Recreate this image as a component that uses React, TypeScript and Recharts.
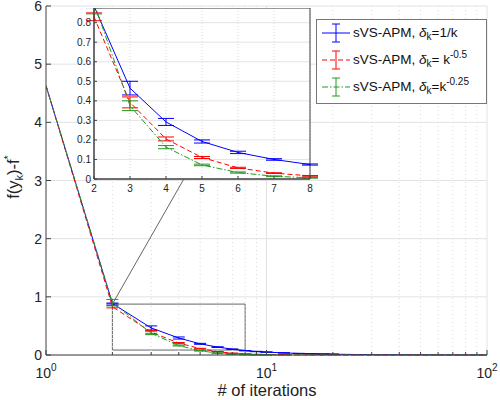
import React from "react"
import {
  ComposedChart,
  Line,
  ErrorBar,
  XAxis,
  YAxis,
  CartesianGrid,
  ReferenceLine,
  ReferenceArea,
} from "recharts"

const iterations = [1, 2, 3, 4, 5, 6, 7, 8, 9, 10, 12, 14, 16, 18, 20, 25, 30, 40, 50, 60, 70, 80, 90, 100]
// delta_k = 1/k
const gapHarmonic = [4.63, 0.885, 0.465, 0.292, 0.192, 0.136, 0.1, 0.074, 0.06, 0.05, 0.036, 0.027, 0.021, 0.017, 0.014, 0.009, 0.006, 0.004, 0.003, 0.002, 0.002, 0.001, 0.001, 0.001]
const errHarmonic = [0, 0.008, 0.035, 0.018, 0.008, 0.006, 0.004, 0.003, 0.003, 0.002, 0.002, 0.001, 0.001, 0.001, 0.001, 0, 0, 0, 0, 0, 0, 0, 0, 0]
// delta_k = k^-0.5
const gapSqrt = [4.63, 0.83, 0.392, 0.205, 0.11, 0.057, 0.03, 0.016, 0.01, 0.007, 0.004, 0.002, 0.001, 0.001, 0.001, 0, 0, 0, 0, 0, 0, 0, 0, 0]
const errSqrt = [0, 0.02, 0.028, 0.01, 0.005, 0.003, 0.002, 0.002, 0.001, 0.001, 0.001, 0, 0, 0, 0, 0, 0, 0, 0, 0, 0, 0, 0, 0]
// delta_k = k^-0.25
const gapQuarter = [4.63, 0.9, 0.375, 0.163, 0.072, 0.033, 0.014, 0.006, 0.003, 0.002, 0.001, 0.001, 0, 0, 0, 0, 0, 0, 0, 0, 0, 0, 0, 0]
const errQuarter = [0, 0.055, 0.025, 0.008, 0.004, 0.003, 0.002, 0.002, 0.001, 0.001, 0, 0, 0, 0, 0, 0, 0, 0, 0, 0, 0, 0, 0, 0]

const mainXTicks = [1, 2, 3, 4, 5, 6, 7, 8, 9, 10, 20, 30, 40, 50, 60, 70, 80, 90, 100]
const minorGrid = [2, 3, 4, 5, 6, 7, 8, 9, 20, 30, 40, 50, 60, 70, 80, 90]
const mainYTicks = [0, 1, 2, 3, 4, 5, 6]
const insetXTicks = [2, 3, 4, 5, 6, 7, 8]
const insetYTicks = [0, 0.1, 0.2, 0.3, 0.4, 0.5, 0.6, 0.7, 0.8]

const BLUE = "#0000ff"
const RED = "#ff0000"
const GREEN = "#229922"
const AXIS = "#404040"
const FONT = "'Liberation Sans', Arial, Helvetica, sans-serif"

const data = iterations.map((k, i) => ({
  k,
  a: gapHarmonic[i],
  aErr: errHarmonic[i],
  b: gapSqrt[i],
  bErr: errSqrt[i],
  c: gapQuarter[i],
  cErr: errQuarter[i],
}))
const insetData = data.filter((d) => d.k >= 2 && d.k <= 8)

const series = [
  { key: "a", err: "aErr", color: BLUE, dash: undefined, exp: "1/k" },
  { key: "b", err: "bErr", color: RED, dash: "5 3", exp: "k^-0.5" },
  { key: "c", err: "cErr", color: GREEN, dash: "6 2 1.5 2", exp: "k^-0.25" },
]

const MainXTick = ({ x, y, payload }: any) => {
  const v = payload.value
  const major = v === 1 || v === 10 || v === 100
  return (
    <g>
      <line x1={x} x2={x} y1={y} y2={y - (major ? 5 : 3)} stroke={AXIS} />
      {major && (
        <text x={x} y={y + 23} textAnchor="middle" fontSize={14} fill="#222" fontFamily={FONT}>
          10<tspan dy={-7} fontSize={10}>{Math.round(Math.log10(v))}</tspan>
        </text>
      )}
    </g>
  )
}

const MainYTick = ({ x, y, payload }: any) => (
  <g>
    <line x1={x} x2={x + 5} y1={y} y2={y} stroke={AXIS} />
    <text x={x - 4} y={y + 5} textAnchor="end" fontSize={14} fill="#222" fontFamily={FONT}>
      {payload.value}
    </text>
  </g>
)

const InsetXTick = ({ x, y, payload }: any) => (
  <g>
    <line x1={x} x2={x} y1={y} y2={y - 3} stroke={AXIS} />
    <text x={x} y={y + 13} textAnchor="middle" fontSize={10} fill="#222" fontFamily={FONT}>
      {payload.value}
    </text>
  </g>
)

const InsetYTick = ({ x, y, payload }: any) => (
  <g>
    <line x1={x} x2={x + 3} y1={y} y2={y} stroke={AXIS} />
    <text x={x - 3} y={y + 3.5} textAnchor="end" fontSize={10} fill="#222" fontFamily={FONT}>
      {payload.value}
    </text>
  </g>
)

const YLabel = () => (
  <text transform="translate(19,177) rotate(-90)" textAnchor="middle" fontSize={16.5} fill="#222" fontFamily={FONT}>
    f(y<tspan dy={4} fontSize={11}>k</tspan>
    <tspan dy={-4}>)-f</tspan>
    <tspan dy={-7} fontSize={11}>*</tspan>
  </text>
)

const XLabel = () => (
  <text x={267} y={396} textAnchor="middle" fontSize={16.5} fill="#222" fontFamily={FONT}>
    # of iterations
  </text>
)

function LegendBox() {
  return (
    <svg width={172} height={86} style={{ position: "absolute", left: 316, top: 19 }}>
      <rect x={0.5} y={0.5} width={170} height={84} fill="#fff" stroke="#777" />
      {series.map((s, i) => {
        const cy = 14 + i * 27
        const [base, sup] = s.exp.split("^")
        return (
          <g key={s.key}>
            <line x1={6} x2={34} y1={cy} y2={cy} stroke={s.color} strokeDasharray={s.dash} />
            <line x1={20} x2={20} y1={cy - 9} y2={cy + 9} stroke={s.color} />
            <line x1={16} x2={24} y1={cy - 9} y2={cy - 9} stroke={s.color} />
            <line x1={16} x2={24} y1={cy + 9} y2={cy + 9} stroke={s.color} />
            <text x={37} y={cy + 4} fontSize={13.5} fill="#111" fontFamily={FONT}>
              sVS-APM, <tspan fontStyle="italic">δ</tspan>
              <tspan dy={3} fontSize={10}>k</tspan>
              <tspan dy={-3}>{s.key === "b" ? "= " : "="}{base}</tspan>
              {sup && <tspan dy={-6} fontSize={10}>{sup}</tspan>}
            </text>
          </g>
        )
      })}
    </svg>
  )
}

export default function App() {
  return (
    <div style={{ position: "absolute", left: 0, top: 0, width: 500, height: 400, background: "#fff" }}>
      <ComposedChart
        width={500}
        height={400}
        data={data}
        margin={{ top: 6, right: 13, bottom: 0, left: 0 }}
        style={{ position: "absolute", left: 0, top: 0 }}
      >
        <CartesianGrid vertical={false} stroke="#e2e2e2" />
        {minorGrid.map((v) => (
          <ReferenceLine key={v} x={v} stroke="#d8d8d8" strokeDasharray="1 3" />
        ))}
        <ReferenceLine x={10} stroke="#e2e2e2" />
        <ReferenceLine x={100} stroke="#e2e2e2" />
        <XAxis
          dataKey="k"
          type="number"
          scale="log"
          domain={[1, 100]}
          allowDataOverflow
          ticks={mainXTicks}
          interval={0}
          tick={<MainXTick />}
          tickLine={false}
          tickSize={0}
          tickMargin={0}
          height={45}
          axisLine={{ stroke: AXIS }}
          label={<XLabel />}
        />
        <YAxis
          type="number"
          domain={[0, 6]}
          ticks={mainYTicks}
          interval={0}
          tick={<MainYTick />}
          tickLine={false}
          tickSize={0}
          tickMargin={0}
          width={46}
          axisLine={{ stroke: AXIS }}
          label={<YLabel />}
        />
        {series.map((s) => (
          <Line
            key={s.key}
            dataKey={s.key}
            stroke={s.color}
            strokeWidth={1}
            strokeDasharray={s.dash}
            dot={false}
            isAnimationActive={false}
          >
            <ErrorBar dataKey={s.err} width={6} stroke={s.color} strokeWidth={1} direction="y" />
          </Line>
        ))}
        <ReferenceArea x1={2} x2={8} y1={0.085} y2={0.875} fill="none" stroke="#666" strokeWidth={1} />
        <ReferenceLine
          segment={[
            { x: 2, y: 0.875 },
            { x: 4.21, y: 3.02 },
          ]}
          stroke="#666"
          ifOverflow="visible"
        />
      </ComposedChart>

      {/* inset zoom, clipped at the top of its plot area */}
      <div style={{ position: "absolute", left: 60, top: 8, width: 260, height: 192, overflow: "hidden" }}>
        <ComposedChart
          width={260}
          height={192}
          data={insetData}
          margin={{ top: 0, right: 10, bottom: 0, left: 0 }}
        >
          <CartesianGrid vertical={false} stroke="#e4e4e4" fill="#fff" fillOpacity={1} />
          <CartesianGrid horizontal={false} stroke="#d6d6d6" strokeDasharray="1 2" />
          <XAxis
            dataKey="k"
            type="number"
            domain={[2, 8]}
            ticks={insetXTicks}
            interval={0}
            tick={<InsetXTick />}
            tickLine={false}
            tickSize={0}
            tickMargin={0}
            height={21}
            axisLine={{ stroke: AXIS }}
          />
          <YAxis
            type="number"
            domain={[0, 0.875]}
            allowDataOverflow
            ticks={insetYTicks}
            interval={0}
            tick={<InsetYTick />}
            tickLine={false}
            tickSize={0}
            tickMargin={0}
            width={34}
            axisLine={{ stroke: AXIS }}
          />
          {series.map((s) => (
            <Line
              key={s.key}
              dataKey={s.key}
              stroke={s.color}
              strokeWidth={1}
              strokeDasharray={s.dash}
              dot={false}
              isAnimationActive={false}
            >
              <ErrorBar dataKey={s.err} width={8} stroke={s.color} strokeWidth={1} direction="y" />
            </Line>
          ))}
          <ReferenceArea x1={2} x2={8} y1={0} y2={0.875} fill="none" stroke={AXIS} strokeWidth={1} />
        </ComposedChart>
      </div>

      <LegendBox />
    </div>
  )
}
